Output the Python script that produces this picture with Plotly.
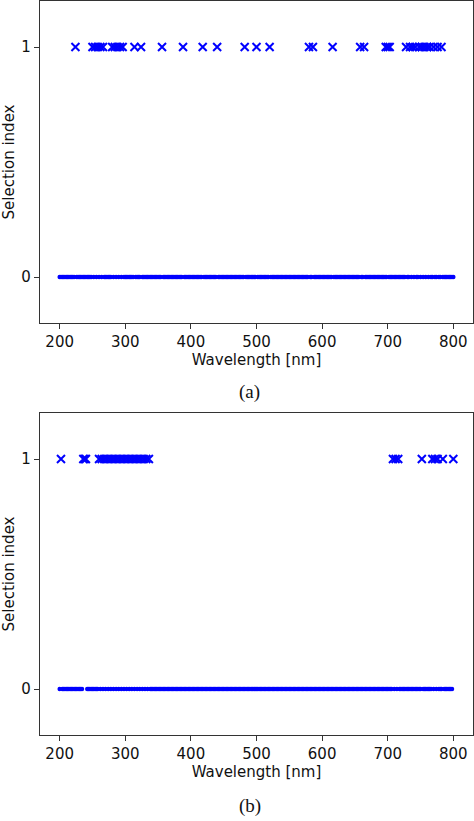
import plotly.graph_objects as go

# wavelength grid (nm) and the wavelengths picked in each run
wavelengths = list(range(200, 801, 2))

selected_a = [224, 250, 254, 258, 262, 266, 280, 284, 288, 292, 296, 314, 324,
              356, 388, 418, 440, 482, 500, 520, 580, 586, 616, 658, 664,
              697, 700, 703, 728, 734, 738, 742, 748, 752, 756,
              760, 764, 770, 776, 782]

selected_b = [202, 236, 238, 240, 260, 264, 268, 272, 276, 280, 284, 288, 292,
              296, 300, 304, 308, 312, 316, 320, 324, 328, 332, 336,
              708, 712, 716, 752, 768, 772, 776, 784, 800]

x_ticks = [200, 300, 400, 500, 600, 700, 800]
y_ticks = [0, 1]
panel_labels = ["(a)", "(b)"]

W, H = 474, 821
BLUE = "#0000ff"
AX = "#333333"


def py(p):
    # pixel row -> paper y
    return 1 - p / H


fig = go.Figure()

panels = [
    (selected_a, "x", "y", (1, 323), 392),
    (selected_b, "x2", "y2", (413, 735), 806),
]

for i, (sel, xa, ya, (top, bot), lab_y) in enumerate(panels):
    rest = [w for w in wavelengths if w not in sel]
    fig.add_trace(go.Scatter(
        x=rest, y=[0] * len(rest), mode="markers", xaxis=xa, yaxis=ya,
        marker=dict(symbol="circle", size=4.5, color=BLUE),
        showlegend=False))
    fig.add_trace(go.Scatter(
        x=sel, y=[1] * len(sel), mode="markers", xaxis=xa, yaxis=ya,
        marker=dict(symbol="x-thin", size=8, color=BLUE,
                    line=dict(width=2, color=BLUE)),
        showlegend=False))

    sfx = "" if i == 0 else "2"
    axis_common = dict(showline=True, mirror=True, linecolor=AX, linewidth=1.2,
                       ticks="outside", ticklen=5, tickcolor=AX,
                       showgrid=False, zeroline=False, automargin=False,
                       tickfont=dict(family="DejaVu Sans", size=15, color="#111"))
    fig.update_layout(**{
        "xaxis" + sfx: dict(
            axis_common, domain=[40 / W, 473 / W], range=[170, 830],
            tickvals=x_ticks, anchor="y" + sfx,
            title=dict(text="Wavelength [nm]", standoff=0,
                       font=dict(family="DejaVu Sans", size=15, color="#111"))),
        "yaxis" + sfx: dict(
            axis_common, domain=[py(bot), py(top)], range=[-0.2, 1.2],
            tickvals=y_ticks, anchor="x" + sfx,
            title=dict(text="Selection index", standoff=6,
                       font=dict(family="DejaVu Sans", size=15, color="#111"))),
    })
    fig.add_annotation(text=panel_labels[i], x=0.527, y=py(lab_y),
                       xref="paper", yref="paper", showarrow=False,
                       yanchor="middle",
                       font=dict(family="Liberation Serif", size=19, color="#111"))

fig.update_layout(width=W, height=H, margin=dict(l=0, r=0, t=0, b=0),
                  paper_bgcolor="white", plot_bgcolor="white")

# page body has a default 8px margin; drop it so the figure sits at 0,0
fig.write_html("out.html",
               config={"displayModeBar": False},
               post_script="document.body.style.margin='0';"
                           "document.body.style.overflow='hidden';")
